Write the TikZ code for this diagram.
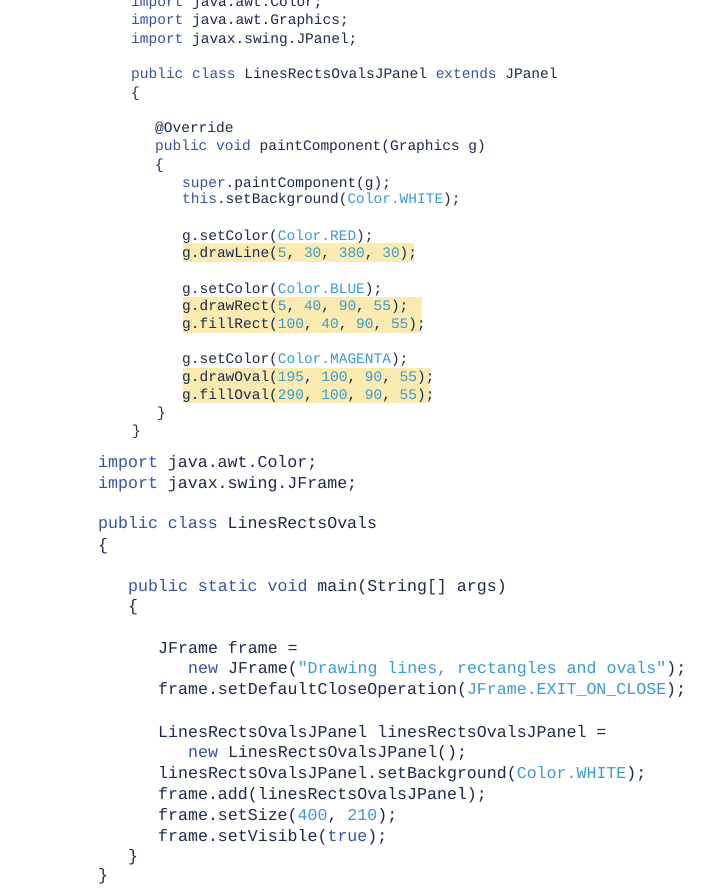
\documentclass[tikz,border=0pt]{standalone}
\usepackage{fontspec}
\setmonofont{Liberation Mono}
\definecolor{txt}{HTML}{1E2A4A}
\definecolor{kwc}{HTML}{3552A6}
\definecolor{litc}{HTML}{3A9BD0}
\definecolor{hl}{HTML}{FCEBB0}
\newcommand{\kw}[1]{\textcolor{kwc}{#1}}
\newcommand{\lt}[1]{\textcolor{litc}{#1}}
\tikzset{
  top/.style={anchor=west,inner sep=0pt,text=txt,font=\ttfamily\fontsize{14.5}{16}\selectfont},
  bot/.style={anchor=west,inner sep=0pt,text=txt,font=\ttfamily\fontsize{16.6}{18}\selectfont},
  hlbox/.style={fill=hl,draw=none}
}
\begin{document}
\begin{tikzpicture}[x=1pt,y=-1pt]
\useasboundingbox[fill=white] (0,0) rectangle (707,893);
\fill[hlbox] (183,243) rectangle (414,262);
\fill[hlbox] (183,297) rectangle (422,333);
\fill[hlbox] (183,368) rectangle (430,403);
\node[top] (t1) at (131,3) {\kw{import} java.awt.Color;};
\node[top] (t2) at (131,21) {\kw{import} java.awt.Graphics;};
\node[top] (t3) at (131,40) {\kw{import} javax.swing.JPanel;};
\node[top] (t4) at (131,75) {\kw{public class} LinesRectsOvalsJPanel \kw{extends} JPanel};
\node[top] (t5) at (131,94) {\{};
\node[top] (t6) at (155,128) {@Override};
\node[top] (t7) at (155,147) {\kw{public void} paintComponent(Graphics g)};
\node[top] (t8) at (155,166) {\{};
\node[top] (t9) at (182,184) {\kw{super}.paintComponent(g);};
\node[top] (t10) at (182,200) {\kw{this}.setBackground(\lt{Color.WHITE});};
\node[top] (t11) at (182,237) {g.setColor(\lt{Color.RED});};
\node[top] (t12) at (182,254) {g.drawLine(\lt{5}, \lt{30}, \lt{380}, \lt{30});};
\node[top] (t13) at (182,290) {g.setColor(\lt{Color.BLUE});};
\node[top] (t14) at (182,307) {g.drawRect(\lt{5}, \lt{40}, \lt{90}, \lt{55});};
\node[top] (t15) at (182,325) {g.fillRect(\lt{100}, \lt{40}, \lt{90}, \lt{55});};
\node[top] (t16) at (182,360) {g.setColor(\lt{Color.MAGENTA});};
\node[top] (t17) at (182,378) {g.drawOval(\lt{195}, \lt{100}, \lt{90}, \lt{55});};
\node[top] (t18) at (182,396) {g.fillOval(\lt{290}, \lt{100}, \lt{90}, \lt{55});};
\node[top] (t19) at (157,414) {\}};
\node[top] (t20) at (132,432) {\}};
\node[bot] (b1) at (98,463) {\kw{import} java.awt.Color;};
\node[bot] (b2) at (98,484) {\kw{import} javax.swing.JFrame;};
\node[bot] (b3) at (98,524) {\kw{public class} LinesRectsOvals};
\node[bot] (b4) at (98,546) {\{};
\node[bot] (b5) at (128,587) {\kw{public static void} main(String[] args)};
\node[bot] (b6) at (128,607) {\{};
\node[bot] (b7) at (158,648) {JFrame frame =};
\node[bot] (b8) at (188,669) {\kw{new} JFrame(\lt{"Drawing lines, rectangles and ovals"});};
\node[bot] (b9) at (158,690) {frame.setDefaultCloseOperation(\lt{JFrame.EXIT\_ON\_CLOSE});};
\node[bot] (b10) at (158,732) {LinesRectsOvalsJPanel linesRectsOvalsJPanel =};
\node[bot] (b11) at (188,753) {\kw{new} LinesRectsOvalsJPanel();};
\node[bot] (b12) at (158,774) {linesRectsOvalsJPanel.setBackground(\lt{Color.WHITE});};
\node[bot] (b13) at (158,795) {frame.add(linesRectsOvalsJPanel);};
\node[bot] (b14) at (158,816) {frame.setSize(\lt{400}, \lt{210});};
\node[bot] (b15) at (158,837) {frame.setVisible(\kw{true});};
\node[bot] (b16) at (128,857) {\}};
\node[bot] (b17) at (98,876) {\}};
\end{tikzpicture}
\end{document}
